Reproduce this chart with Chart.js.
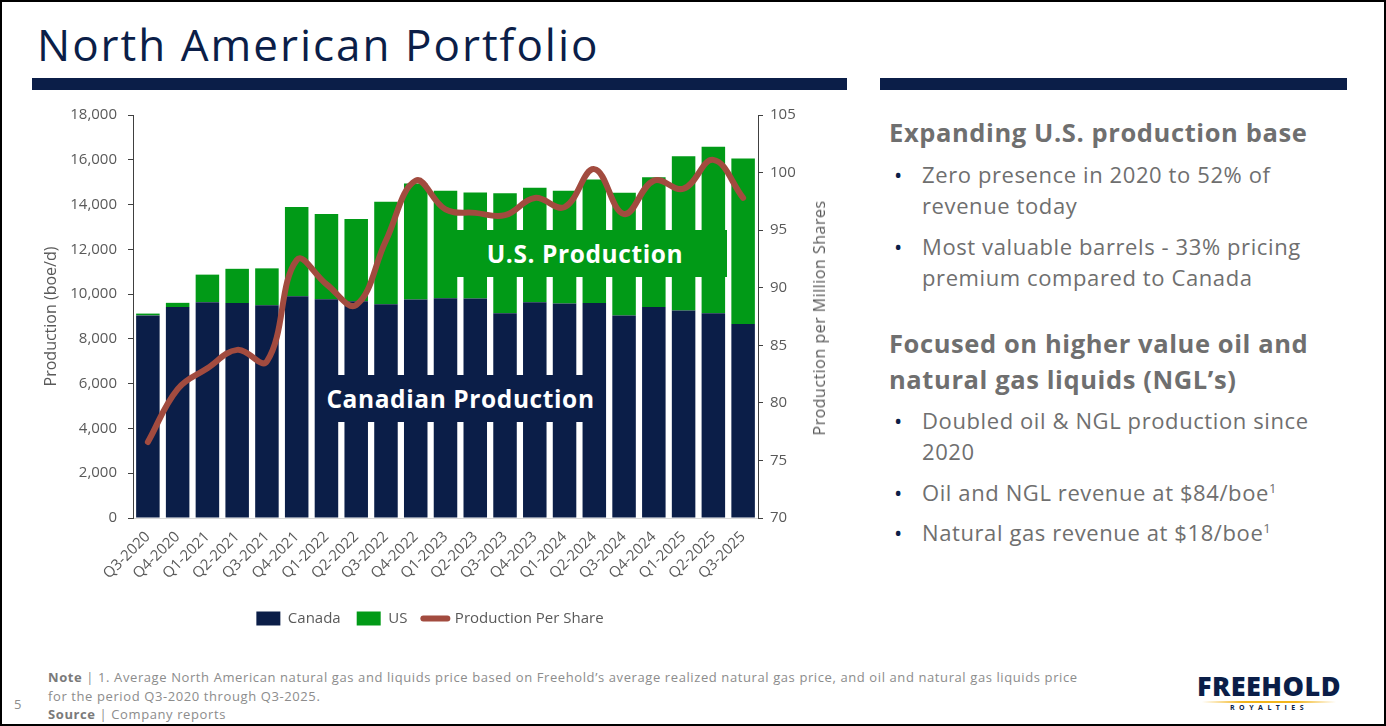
<!DOCTYPE html>
<html lang="en">
<head>
<meta charset="UTF-8">
<title>North American Portfolio</title>
<script src="https://cdn.jsdelivr.net/npm/chart.js"></script>
<style>
    html, body { margin: 0; padding: 0; }
    body {
        width: 1386px; height: 726px; position: relative; overflow: hidden;
        background: #fff; font-family: "Open Sans", sans-serif;
        box-sizing: border-box; border: 2px solid #000;
    }
    .abs { position: absolute; }
    .title { left: 35px; top: 12px; font-size: 44px; letter-spacing: 2px; color: #0b1e48; white-space: nowrap; }
    .rule { background: #0b1e48; height: 12px; top: 76px; }
    .chart-box { left: 28px; top: 93px; width: 800px; height: 541px; }
    .tag { color: #fff; font-weight: 700; font-size: 24.5px; letter-spacing: 0.6px; text-align: center; line-height: 47px; }
    .head { left: 887px; color: #6f6f6f; font-weight: 700; font-size: 25.5px; letter-spacing: 0.6px; line-height: 36px; white-space: nowrap; }
    .bul { left: 920px; color: #6f6f6f; font-size: 22px; letter-spacing: 0.6px; line-height: 31px; white-space: nowrap; }
    .bul::before { content: "\2022"; color: #0b1e48; position: absolute; left: -28px; }
    .bul sup { font-size: 13px; line-height: 0; }
    .note { left: 46px; color: #8c8c8c; font-size: 13px; letter-spacing: 0.6px; line-height: 18.5px; white-space: nowrap; }
    .note b { color: #7a7a7a; }
    .logo { left: 1194px; top: 670px; width: 146px; text-align: center; }
    .ytitle { left: 817px; top: 316px; color: #595959; font-size: 16px; letter-spacing: 0.5px; white-space: nowrap;
              transform: translate(-50%, -50%) rotate(-90deg); }
</style>
</head>
<body>
    <div class="abs title">North American Portfolio</div>
    <div class="abs rule" style="left:30px; width:815px;"></div>
    <div class="abs rule" style="left:878px; width:467px;"></div>

    <div class="abs chart-box"><canvas id="prodChart" width="800" height="541"></canvas></div>
    <div class="abs ytitle">Production per Million Shares</div>

    <div class="abs tag" style="left:441px; top:228px; width:284px; height:47px; background:#019a17;">U.S. Production</div>
    <div class="abs tag" style="left:314px; top:373px; width:289px; height:47px; background:#0b1e48;">Canadian Production</div>

    <div class="abs head" style="top:112px;">Expanding U.S. production base</div>
    <div class="abs bul" style="top:157px;">Zero presence in 2020 to 52% of<br>revenue today</div>
    <div class="abs bul" style="top:229px;">Most valuable barrels - 33% pricing<br>premium compared to Canada</div>
    <div class="abs head" style="top:323px;">Focused on higher value oil and<br>natural gas liquids (NGL’s)</div>
    <div class="abs bul" style="top:403px;">Doubled oil &amp; NGL production since<br>2020</div>
    <div class="abs bul" style="top:475px;">Oil and NGL revenue at $84/boe<sup>1</sup></div>
    <div class="abs bul" style="top:515px;">Natural gas revenue at $18/boe<sup>1</sup></div>

    <div class="abs note" style="top:666px;"><b>Note</b> | 1. Average North American natural gas and liquids price based on Freehold’s average realized natural gas price, and oil and natural gas liquids price<br>for the period Q3-2020 through Q3-2025.<br><b>Source</b> | Company reports</div>
    <div class="abs" style="left:12px; top:693px; color:#8c8c8c; font-size:13px;">5</div>

    <div class="abs logo">
        <div style="font-size:27px; font-weight:800; color:#0b1e48; line-height:28px; letter-spacing:0.5px;">FREEHOLD</div>
        <div style="height:2px; margin:1px 6px 0; background:linear-gradient(90deg, #fff, #f2b51c 30%, #f2b51c 70%, #fff);"></div>
        <div style="font-size:7px; font-weight:700; color:#0b1e48; letter-spacing:4.5px; line-height:10px;">ROYALTIES</div>
    </div>

    <script>
        // quarterly production
        const quarters = ['Q3-2020', 'Q4-2020', 'Q1-2021', 'Q2-2021', 'Q3-2021', 'Q4-2021', 'Q1-2022',
            'Q2-2022', 'Q3-2022', 'Q4-2022', 'Q1-2023', 'Q2-2023', 'Q3-2023', 'Q4-2023', 'Q1-2024',
            'Q2-2024', 'Q3-2024', 'Q4-2024', 'Q1-2025', 'Q2-2025', 'Q3-2025'];
        const canada = [9050, 9420, 9640, 9600, 9500, 9910, 9770, 9680, 9550, 9760, 9820,
            9800, 9150, 9640, 9580, 9600, 9050, 9420, 9270, 9150, 8660];
        const us = [80, 190, 1230, 1530, 1650, 3980, 3810, 3670, 4580, 5180, 4800,
            4740, 5360, 5110, 5040, 5520, 5480, 5800, 6890, 7430, 7400];
        const perShare = [76.6, 81.2, 83.0, 84.6, 83.6, 92.4, 90.3, 88.5, 94.1, 99.3, 96.8,
            96.5, 96.3, 97.8, 97.0, 100.3, 96.4, 99.3, 98.6, 101.1, 97.8];

        const leftTicks = [0, 2000, 4000, 6000, 8000, 10000, 12000, 14000, 16000, 18000];
        const rightTicks = [70, 75, 80, 85, 90, 95, 100, 105];

        const navy = '#0b1e48';
        const green = '#019a17';
        const brick = '#a24b3f';
        const grey = '#595959';
        const font = { family: 'Open Sans', size: 15 };

        const ctx = document.getElementById('prodChart').getContext('2d');
        const prodChart = new Chart(ctx, {
            type: 'bar',
            data: {
                labels: quarters,
                datasets: [
                    { label: 'Canada', data: canada, backgroundColor: navy, yAxisID: 'y', stack: 'p', order: 2,
                      barPercentage: 0.79, categoryPercentage: 1 },
                    { label: 'US', data: us, backgroundColor: green, yAxisID: 'y', stack: 'p', order: 2,
                      barPercentage: 0.79, categoryPercentage: 1 },
                    { label: 'Production Per Share', type: 'line', data: perShare, yAxisID: 'y1', order: 1,
                      borderColor: brick, backgroundColor: brick, borderWidth: 6, tension: 0.4,
                      pointRadius: 0, borderCapStyle: 'round', borderJoinStyle: 'round' }
                ]
            },
            options: {
                responsive: false,
                animation: false,
                layout: { padding: { top: 15, bottom: 0, left: 0, right: 0 } },
                plugins: {
                    tooltip: { enabled: false },
                    legend: {
                        position: 'bottom',
                        labels: {
                            color: grey,
                            font: { family: 'Open Sans', size: 15 },
                            usePointStyle: true,
                            pointStyleWidth: 24,
                            boxHeight: 14,
                            padding: 16,
                            sort: (a, b) => a.datasetIndex - b.datasetIndex,
                            generateLabels: chart => chart.data.datasets.map((ds, i) => ({
                                text: ds.label,
                                datasetIndex: i,
                                fillStyle: ds.type === 'line' ? brick : ds.backgroundColor,
                                strokeStyle: ds.type === 'line' ? brick : ds.backgroundColor,
                                lineWidth: ds.type === 'line' ? 6 : 0,
                                lineCap: 'round',
                                pointStyle: ds.type === 'line' ? 'line' : 'rect',
                                fontColor: grey,
                                hidden: false
                            }))
                        }
                    }
                },
                scales: {
                    x: {
                        stacked: true,
                        grid: { display: false },
                        border: { display: true, color: '#d9d9d9', width: 1 },
                        ticks: { color: grey, font: font, minRotation: 45, maxRotation: 45, autoSkip: false, padding: 2 },
                        afterFit: s => { s.height = 77; }
                    },
                    y: {
                        position: 'left',
                        stacked: true,
                        min: 0, max: 18000,
                        afterBuildTicks: s => { s.ticks = leftTicks.map(v => ({ value: v })); },
                        ticks: { color: grey, font: font, padding: 11,
                                 callback: v => v.toLocaleString('en-US') },
                        grid: { drawOnChartArea: false, drawTicks: true, tickLength: 5, color: '#404040' },
                        border: { display: true, color: '#404040', width: 1 },
                        title: { display: true, text: 'Production (boe/d)', color: grey,
                                 font: { family: 'Open Sans', size: 16 }, padding: { top: 12, bottom: 4 } },
                        afterFit: s => { s.width = 103; }
                    },
                    y1: {
                        position: 'right',
                        min: 70, max: 105,
                        afterBuildTicks: s => { s.ticks = rightTicks.map(v => ({ value: v })); },
                        ticks: { color: grey, font: font, padding: 7 },
                        grid: { drawOnChartArea: false, drawTicks: true, tickLength: 5, color: '#404040' },
                        border: { display: true, color: '#404040', width: 1 },
                        afterFit: s => { s.width = 72; }
                    }
                }
            }
        });
    </script>
</body>
</html>
